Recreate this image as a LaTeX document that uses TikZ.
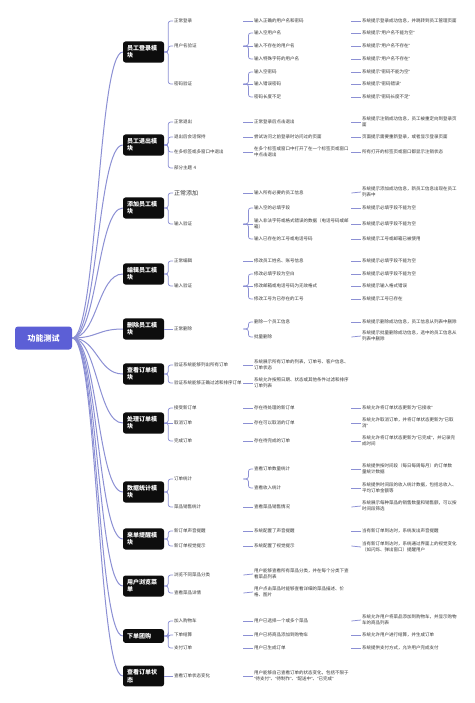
\documentclass[tikz,border=0pt]{standalone}
\usepackage{fontspec}
\setmainfont{Noto Sans CJK SC}
\newfontfamily\latinfont{Liberation Sans}
\newcommand{\zhq}[1]{{\latinfont “}#1{\latinfont ”}}
\usetikzlibrary{positioning}
\definecolor{rootpurple}{RGB}{92, 95, 214}
\definecolor{linkpurple}{RGB}{140, 144, 212}
\definecolor{textgray}{RGB}{55, 55, 55}

\begin{document}
\begin{tikzpicture}[x=1pt, y=-1pt,
			root/.style={rectangle, fill=rootpurple, text=white, font=\fontsize{8}{9}\selectfont\bfseries, minimum width=57pt, minimum height=23pt, rounded corners=3pt},
			module/.style={rectangle, fill=black!95, text=white, font=\fontsize{6}{7.3}\selectfont\bfseries, text width=33pt, inner xsep=4pt, inner ysep=4pt, align=left, rounded corners=2.5pt},
			topic/.style={anchor=west, text=textgray, font=\fontsize{4.5}{5.6}\selectfont, text width=68pt, align=left, inner xsep=1pt, inner ysep=0.5pt},
			case/.style={topic, text width=96pt},
			result/.style={topic, text width=108pt},
			branch/.style={draw=linkpurple, line width=1pt},
			link/.style={draw=linkpurple, line width=0.75pt, rounded corners=2.5pt}
		]
		\path[use as bounding box, fill=white] (0,0) rectangle (474,703);

		\node[root] (test) at (43.5,338) {功能测试};

		\node[module] (login) at (143.5,52) {员工登录模\\块};
		\node[module] (logout) at (143.5,145) {员工退出模\\块};
		\node[module] (addemp) at (143.5,208) {添加员工模\\块};
		\node[module] (editemp) at (143.5,274) {编辑员工模\\块};
		\node[module] (delemp) at (143.5,329) {删除员工模\\块};
		\node[module] (vieworder) at (143.5,374) {查看订单模\\块};
		\node[module] (procorder) at (143.5,423) {处理订单模\\块};
		\node[module] (stats) at (143.5,492) {数据统计模\\块};
		\node[module] (remind) at (143.5,539) {来单提醒模\\块};
		\node[module] (browse) at (143.5,586) {用户浏览菜\\单};
		\node[module] (order) at (143.5,636) {下单团购};
		\node[module] (status) at (143.5,676) {查看订单状\\态};

		\node[topic] (loginA) at (173,21) {正常登录};
		\node[topic] (loginB) at (173,46) {用户名验证};
		\node[topic] (loginC) at (173,84) {密码验证};
		\node[case] (loginA1) at (253,21) {输入正确的用户名和密码};
		\node[case] (loginB1) at (253,33) {输入空用户名};
		\node[case] (loginB2) at (253,46) {输入不存在的用户名};
		\node[case] (loginB3) at (253,59) {输入特殊字符的用户名};
		\node[case] (loginC1) at (253,72) {输入空密码};
		\node[case] (loginC2) at (253,84) {输入错误密码};
		\node[case] (loginC3) at (253,97) {密码长度不足};
		\node[result] (loginA1r) at (361,21) {系统提示登录成功信息，并跳转到员工管理页面};
		\node[result] (loginB1r) at (361,33) {系统提示\zhq{用户名不能为空}};
		\node[result] (loginB2r) at (361,46) {系统提示\zhq{用户名不存在}};
		\node[result] (loginB3r) at (361,59) {系统提示\zhq{用户名不存在}};
		\node[result] (loginC1r) at (361,72) {系统提示\zhq{密码不能为空}};
		\node[result] (loginC2r) at (361,84) {系统提示\zhq{密码错误}};
		\node[result] (loginC3r) at (361,97) {系统提示\zhq{密码长度不足}};

		\node[topic] (logoutA) at (173,122) {正常退出};
		\node[topic] (logoutB) at (173,137) {退出后会话保持};
		\node[topic] (logoutC) at (173,152) {在多标签或多窗口中退出};
		\node[topic] (logoutD) at (173,168) {部分主题 4};
		\node[case] (logoutA1) at (253,122) {正常登录后点击退出};
		\node[case] (logoutB1) at (253,137) {尝试访问之前登录时访问过的页面};
		\node[case] (logoutC1) at (253,152) {在多个标签或窗口中打开了在一个标签页或窗口\\中点击退出};
		\node[result] (logoutA1r) at (361,122) {系统提示注销成功信息，员工被重定向到登录页\\面};
		\node[result] (logoutB1r) at (361,137) {页面提示需要重新登录，或者显示登录页面};
		\node[result] (logoutC1r) at (361,152) {所有打开的标签页或窗口都显示注销状态};

		\node[topic, font=\fontsize{6}{7}\selectfont] (addempA) at (173,193) {正常添加};
		\node[topic] (addempB) at (173,224) {输入验证};
		\node[case] (addempA1) at (253,193) {输入所有必要的员工信息};
		\node[case] (addempB1) at (253,208) {输入空的必填字段};
		\node[case] (addempB2) at (253,224) {输入非法字符或格式错误的数据（电话号码或邮\\箱）};
		\node[case] (addempB3) at (253,239) {输入已存在的工号或电话号码};
		\node[result] (addempA1r) at (361,192) {系统提示添加成功信息，新员工信息出现在员工\\列表中};
		\node[result] (addempB1r) at (361,208) {系统提示必填字段不能为空};
		\node[result] (addempB2r) at (361,224) {系统提示必填字段不能为空};
		\node[result] (addempB3r) at (361,239) {系统提示工号或邮箱已被使用};

		\node[topic] (editempA) at (173,261) {正常编辑};
		\node[topic] (editempB) at (173,286) {输入验证};
		\node[case] (editempA1) at (253,261) {修改员工姓名、账号信息};
		\node[case] (editempB1) at (253,274) {修改必填字段为空白};
		\node[case] (editempB2) at (253,286) {修改邮箱或电话号码为无效格式};
		\node[case] (editempB3) at (253,299) {修改工号为已存在的工号};
		\node[result] (editempA1r) at (361,261) {系统提示必填字段不能为空};
		\node[result] (editempB1r) at (361,274) {系统提示必填字段不能为空};
		\node[result] (editempB2r) at (361,286) {系统提示输入格式错误};
		\node[result] (editempB3r) at (361,299) {系统提示工号已存在};

		\node[topic] (delempA) at (173,329) {正常删除};
		\node[case] (delempA1) at (253,322) {删除一个员工信息};
		\node[case] (delempA2) at (253,337) {批量删除};
		\node[result] (delempA1r) at (361,322) {系统提示删除成功信息，员工信息从列表中删除};
		\node[result] (delempA2r) at (361,336) {系统提示批量删除成功信息，选中的员工信息从\\列表中删除};

		\node[topic] (vieworderA) at (173,365) {验证系统能够列出所有订单};
		\node[topic] (vieworderB) at (173,383) {验证系统能够正确过滤和排序订单};
		\node[case] (vieworderA1) at (253,365) {系统展示所有订单的列表，订单号、客户信息、\\订单状态};
		\node[case] (vieworderB1) at (253,383) {系统允许按照日期、状态或其他条件过滤和排序\\订单列表};

		\node[topic] (procorderA) at (173,408) {接受新订单};
		\node[topic] (procorderB) at (173,423) {取消订单};
		\node[topic] (procorderC) at (173,441) {完成订单};
		\node[case] (procorderA1) at (253,408) {存在待处理的新订单};
		\node[case] (procorderB1) at (253,423) {存在可以取消的订单};
		\node[case] (procorderC1) at (253,441) {存在待完成的订单};
		\node[result] (procorderA1r) at (361,408) {系统允许将订单状态更新为\zhq{已接收}};
		\node[result] (procorderB1r) at (361,423) {系统允许取消订单，并将订单状态更新为{\latinfont “}已取\\消{\latinfont ”}};
		\node[result] (procorderC1r) at (361,441) {系统允许将订单状态更新为\zhq{已完成}，并记录完\\成时间};

		\node[topic] (statsA) at (173,479) {订单统计};
		\node[topic] (statsB) at (173,507) {菜品销售统计};
		\node[case] (statsA1) at (253,469) {查看订单数量统计};
		\node[case] (statsA2) at (253,488) {查看收入统计};
		\node[case] (statsB1) at (253,507) {查看菜品销售情况};
		\node[result] (statsA1r) at (361,469) {系统提供按时间段（每日每周每月）的订单数\\量统计数据};
		\node[result] (statsA2r) at (361,488) {系统提供时间段的收入统计数据，包括总收入、\\平均订单金额等};
		\node[result] (statsB1r) at (361,506) {系统展示每种菜品的销售数量和销售额，可以按\\时间段筛选};

		\node[topic] (remindA) at (173,531) {新订单声音提醒};
		\node[topic] (remindB) at (173,546) {新订单视觉提示};
		\node[case] (remindA1) at (253,531) {系统配置了声音提醒};
		\node[case] (remindB1) at (253,546) {系统配置了视觉提示};
		\node[result] (remindA1r) at (361,531) {当有新订单到达时，系统发出声音提醒};
		\node[result] (remindB1r) at (361,547) {当有新订单到达时，系统通过界面上的视觉变化\\（如闪烁、弹出窗口）提醒用户};

		\node[topic] (browseA) at (173,575) {浏览不同菜品分类};
		\node[topic] (browseB) at (173,593) {查看菜品详情};
		\node[case] (browseA1) at (253,574) {用户能够查看所有菜品分类，并在每个分类下查\\看菜品列表};
		\node[case] (browseB1) at (253,592) {用户点击菜品时能够查看详细的菜品描述、价\\格、图片};

		\node[topic] (orderA) at (173,621) {加入购物车};
		\node[topic] (orderB) at (173,635) {下单结算};
		\node[topic] (orderC) at (173,648) {支付订单};
		\node[case] (orderA1) at (253,621) {用户已选择一个或多个菜品};
		\node[case] (orderB1) at (253,635) {用户已将商品添加到购物车};
		\node[case] (orderC1) at (253,648) {用户已生成订单};
		\node[result] (orderA1r) at (361,620) {系统允许用户将菜品添加到购物车，并显示购物\\车的商品列表};
		\node[result] (orderB1r) at (361,635) {系统允许用户进行结算，并生成订单};
		\node[result] (orderC1r) at (361,648) {系统提供支付方式，允许用户完成支付};

		\node[topic] (statusA) at (173,676) {查看订单状态变化};
		\node[case] (statusA1) at (253,676) {用户能够自己查看订单的状态变化，包括不限于\\\zhq{待支付}、\zhq{待制作}、\zhq{配送中}、\zhq{已完成}};

		\draw[branch] (test.east) .. controls +(25,0) and +(-25,0) .. (login.west);
		\draw[branch] (test.east) .. controls +(25,0) and +(-25,0) .. (logout.west);
		\draw[branch] (test.east) .. controls +(25,0) and +(-25,0) .. (addemp.west);
		\draw[branch] (test.east) .. controls +(25,0) and +(-25,0) .. (editemp.west);
		\draw[branch] (test.east) .. controls +(25,0) and +(-25,0) .. (delemp.west);
		\draw[branch] (test.east) .. controls +(25,0) and +(-25,0) .. (vieworder.west);
		\draw[branch] (test.east) .. controls +(25,0) and +(-25,0) .. (procorder.west);
		\draw[branch] (test.east) .. controls +(25,0) and +(-25,0) .. (stats.west);
		\draw[branch] (test.east) .. controls +(25,0) and +(-25,0) .. (remind.west);
		\draw[branch] (test.east) .. controls +(25,0) and +(-25,0) .. (browse.west);
		\draw[branch] (test.east) .. controls +(25,0) and +(-25,0) .. (order.west);
		\draw[branch] (test.east) .. controls +(25,0) and +(-25,0) .. (status.west);

		\draw[link] (login.east) -- ++(4,0) |- (loginA.west);
		\draw[link] (login.east) -- ++(4,0) |- (loginB.west);
		\draw[link] (login.east) -- ++(4,0) |- (loginC.west);
		\draw[link] (loginA.east) -- (loginA1.west);
		\draw[link] (loginB.east) -- ++(5,0) |- (loginB1.west);
		\draw[link] (loginB.east) -- (loginB2.west);
		\draw[link] (loginB.east) -- ++(5,0) |- (loginB3.west);
		\draw[link] (loginC.east) -- ++(5,0) |- (loginC1.west);
		\draw[link] (loginC.east) -- (loginC2.west);
		\draw[link] (loginC.east) -- ++(5,0) |- (loginC3.west);
		\draw[link] (loginA1.east) -- (loginA1r.west);
		\draw[link] (loginB1.east) -- (loginB1r.west);
		\draw[link] (loginB2.east) -- (loginB2r.west);
		\draw[link] (loginB3.east) -- (loginB3r.west);
		\draw[link] (loginC1.east) -- (loginC1r.west);
		\draw[link] (loginC2.east) -- (loginC2r.west);
		\draw[link] (loginC3.east) -- (loginC3r.west);

		\draw[link] (logout.east) -- ++(4,0) |- (logoutA.west);
		\draw[link] (logout.east) -- ++(4,0) |- (logoutB.west);
		\draw[link] (logout.east) -- ++(4,0) |- (logoutC.west);
		\draw[link] (logout.east) -- ++(4,0) |- (logoutD.west);
		\draw[link] (logoutA.east) -- (logoutA1.west);
		\draw[link] (logoutB.east) -- (logoutB1.west);
		\draw[link] (logoutC.east) -- (logoutC1.west);
		\draw[link] (logoutA1.east) -- (logoutA1r.west);
		\draw[link] (logoutB1.east) -- (logoutB1r.west);
		\draw[link] (logoutC1.east) -- (logoutC1r.west);

		\draw[link] (addemp.east) -- ++(4,0) |- (addempA.west);
		\draw[link] (addemp.east) -- ++(4,0) |- (addempB.west);
		\draw[link] (addempA.east) -- (addempA1.west);
		\draw[link] (addempB.east) -- ++(5,0) |- (addempB1.west);
		\draw[link] (addempB.east) -- (addempB2.west);
		\draw[link] (addempB.east) -- ++(5,0) |- (addempB3.west);
		\draw[link] (addempA1.east) -- (addempA1r.west);
		\draw[link] (addempB1.east) -- (addempB1r.west);
		\draw[link] (addempB2.east) -- (addempB2r.west);
		\draw[link] (addempB3.east) -- (addempB3r.west);

		\draw[link] (editemp.east) -- ++(4,0) |- (editempA.west);
		\draw[link] (editemp.east) -- ++(4,0) |- (editempB.west);
		\draw[link] (editempA.east) -- (editempA1.west);
		\draw[link] (editempB.east) -- ++(5,0) |- (editempB1.west);
		\draw[link] (editempB.east) -- (editempB2.west);
		\draw[link] (editempB.east) -- ++(5,0) |- (editempB3.west);
		\draw[link] (editempA1.east) -- (editempA1r.west);
		\draw[link] (editempB1.east) -- (editempB1r.west);
		\draw[link] (editempB2.east) -- (editempB2r.west);
		\draw[link] (editempB3.east) -- (editempB3r.west);

		\draw[link] (delemp.east) -- (delempA.west);
		\draw[link] (delempA.east) -- ++(5,0) |- (delempA1.west);
		\draw[link] (delempA.east) -- ++(5,0) |- (delempA2.west);
		\draw[link] (delempA1.east) -- (delempA1r.west);
		\draw[link] (delempA2.east) -- (delempA2r.west);

		\draw[link] (vieworder.east) -- ++(4,0) |- (vieworderA.west);
		\draw[link] (vieworder.east) -- ++(4,0) |- (vieworderB.west);
		\draw[link] (vieworderA.east) -- (vieworderA1.west);
		\draw[link] (vieworderB.east) -- (vieworderB1.west);

		\draw[link] (procorder.east) -- ++(4,0) |- (procorderA.west);
		\draw[link] (procorder.east) -- (procorderB.west);
		\draw[link] (procorder.east) -- ++(4,0) |- (procorderC.west);
		\draw[link] (procorderA.east) -- (procorderA1.west);
		\draw[link] (procorderB.east) -- (procorderB1.west);
		\draw[link] (procorderC.east) -- (procorderC1.west);
		\draw[link] (procorderA1.east) -- (procorderA1r.west);
		\draw[link] (procorderB1.east) -- (procorderB1r.west);
		\draw[link] (procorderC1.east) -- (procorderC1r.west);

		\draw[link] (stats.east) -- ++(4,0) |- (statsA.west);
		\draw[link] (stats.east) -- ++(4,0) |- (statsB.west);
		\draw[link] (statsA.east) -- ++(5,0) |- (statsA1.west);
		\draw[link] (statsA.east) -- ++(5,0) |- (statsA2.west);
		\draw[link] (statsB.east) -- (statsB1.west);
		\draw[link] (statsA1.east) -- (statsA1r.west);
		\draw[link] (statsA2.east) -- (statsA2r.west);
		\draw[link] (statsB1.east) -- (statsB1r.west);

		\draw[link] (remind.east) -- ++(4,0) |- (remindA.west);
		\draw[link] (remind.east) -- ++(4,0) |- (remindB.west);
		\draw[link] (remindA.east) -- (remindA1.west);
		\draw[link] (remindB.east) -- (remindB1.west);
		\draw[link] (remindA1.east) -- (remindA1r.west);
		\draw[link] (remindB1.east) -- (remindB1r.west);

		\draw[link] (browse.east) -- ++(4,0) |- (browseA.west);
		\draw[link] (browse.east) -- ++(4,0) |- (browseB.west);
		\draw[link] (browseA.east) -- (browseA1.west);
		\draw[link] (browseB.east) -- (browseB1.west);

		\draw[link] (order.east) -- ++(4,0) |- (orderA.west);
		\draw[link] (order.east) -- ++(4,0) |- (orderB.west);
		\draw[link] (order.east) -- ++(4,0) |- (orderC.west);
		\draw[link] (orderA.east) -- (orderA1.west);
		\draw[link] (orderB.east) -- (orderB1.west);
		\draw[link] (orderC.east) -- (orderC1.west);
		\draw[link] (orderA1.east) -- (orderA1r.west);
		\draw[link] (orderB1.east) -- (orderB1r.west);
		\draw[link] (orderC1.east) -- (orderC1r.west);

		\draw[link] (status.east) -- (statusA.west);
		\draw[link] (statusA.east) -- (statusA1.west);
		\end{tikzpicture}
\end{document}
